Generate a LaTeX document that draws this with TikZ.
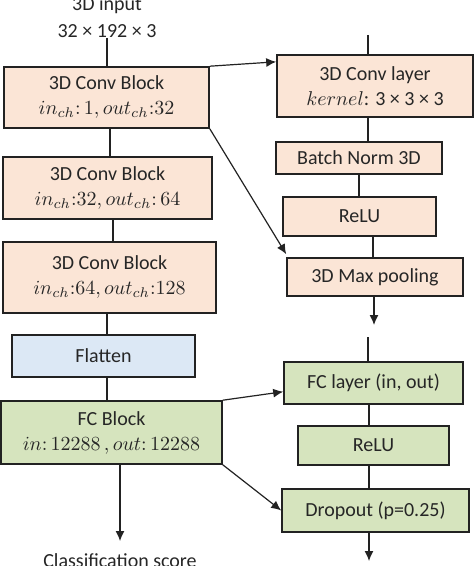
\documentclass[tikz,border=0pt]{standalone}
\usepackage{fontspec}
\setmainfont{Carlito}
\usetikzlibrary{arrows.meta,calc}
\definecolor{peach}{HTML}{FBE5D6}
\definecolor{lblue}{HTML}{DCE8F5}
\definecolor{lgreen}{HTML}{D6E4BE}
\definecolor{edge}{HTML}{222222}
\tikzset{
  blk/.style={draw=edge,line width=0.8pt,rectangle,inner sep=0pt,align=center,font=\fontsize{10}{12.5}\selectfont,text=black!85},
  conv/.style={blk,fill=peach},
  flat/.style={blk,fill=lblue},
  fc/.style={blk,fill=lgreen},
  lbl/.style={inner sep=0pt,font=\fontsize{10}{12.5}\selectfont,text=black!85},
  link/.style={draw=edge,line width=0.6pt},
  arr/.style={link,-{Latex[length=5pt,width=4.5pt]}}
}
\begin{document}
\begin{tikzpicture}[x=0.5pt,y=-0.5pt]
\useasboundingbox (0,0) rectangle (474,566);
% left column
\node[lbl,align=center] (inp) at (107,17) {3D input\\[1pt]32 × 192 × 3};
\node[conv,minimum width=102.5pt,minimum height=30.5pt] (b1) at (106.5,97.5) {3D Conv Block\\$in_{ch}{:}\,1, out_{ch}{:}32$};
\node[conv,minimum width=104.5pt,minimum height=31pt] (b2) at (107.5,188) {3D Conv Block\\$in_{ch}{:}32, out_{ch}{:}\,64$};
\node[conv,minimum width=106.5pt,minimum height=35.5pt] (b3) at (109.5,277.5) {3D Conv Block\\$in_{ch}{:}64, out_{ch}{:}128$};
\node[flat,minimum width=91.5pt,minimum height=21pt] (fl) at (103.5,356) {Flatten};
\node[fc,minimum width=110.5pt,minimum height=31.5pt] (fcb) at (111.5,432.5) {FC Block\\$in{:}\,12288\,,out{:}\,12288$};
\coordinate (cse) at (120,541);
\node[lbl] (cs) at (120,561) {Classification score};
% right column top
\coordinate (rt) at (368,35);
\node[conv,minimum width=98pt,minimum height=31pt] (cl) at (375,86) {3D Conv layer\\$kernel$: 3 × 3 × 3};
\node[conv,minimum width=83pt,minimum height=16pt] (bn) at (359,158) {Batch Norm 3D};
\node[conv,minimum width=76.5pt,minimum height=19.5pt] (r1) at (359.5,216.5) {ReLU};
\node[conv,minimum width=88pt,minimum height=19pt] (mp) at (375,277) {3D Max pooling};
\coordinate (mpe) at (374,325);
% right column bottom
\coordinate (rb) at (368,337);
\node[fc,minimum width=89.5pt,minimum height=21pt] (fcl) at (373.5,383) {FC layer (in, out)};
\node[fc,minimum width=75.5pt,minimum height=19.5pt] (r2) at (373.5,445.5) {ReLU};
\node[fc,minimum width=93.5pt,minimum height=21.5pt] (dp) at (375.5,510.5) {Dropout (p=0.25)};
\coordinate (dpe) at (369,561);
% vertical links
\draw[link] (inp.south) -- (inp.south |- b1.north);
\draw[link] ($(b1.south)+(3.5,0)$) coordinate (t1) -- (t1 |- b2.north);
\draw[link] ($(b2.south)+(5.5,0)$) coordinate (t2) -- (t2 |- b3.north);
\draw[link] ($(b3.south)+(-2.5,0)$) coordinate (t3) -- (t3 |- fl.north);
\draw[link] ($(fl.south)+(3.5,0)$) coordinate (t4) -- (t4 |- fcb.north);
\draw[arr] ($(fcb.south)+(8.5,0)$) -- (cse);
\draw[link] (rt) -- (rt |- cl.north);
\draw[link] ($(cl.south)+(-7,0)$) coordinate (t5) -- (t5 |- bn.north);
\draw[link] (bn.south) -- (bn.south |- r1.north);
\draw[link] ($(r1.south)+(13.5,0)$) coordinate (t6) -- (t6 |- mp.north);
\draw[arr] ($(mp.south)+(-1,0)$) -- (mpe);
\draw[link] (rb) -- (rb |- fcl.north);
\draw[link] ($(fcl.south)+(-4.5,0)$) coordinate (t7) -- (t7 |- r2.north);
\draw[link] ($(r2.south)+(-4.5,0)$) coordinate (t8) -- (t8 |- dp.north);
\draw[arr] ($(dp.south)+(-6.5,0)$) -- (dpe);
% expansion links
\draw[arr] (b1.north east) -- ($(cl.north west)!0.12!(cl.south west)$);
\draw[arr] (b1.south east) -- ($(mp.north west)+(0,-3)$);
\draw[arr] (fcb.north east) -- ($(fcl.north west)!0.7!(fcl.south west)$);
\draw[arr] (fcb.south east) -- (dp.west);
\end{tikzpicture}
\end{document}
